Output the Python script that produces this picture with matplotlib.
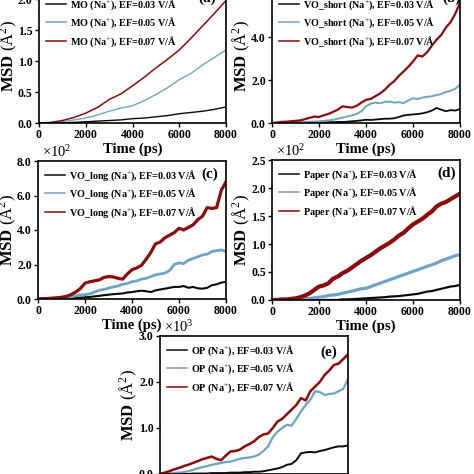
import matplotlib
matplotlib.use("Agg")
import matplotlib.pyplot as plt

plt.rcParams['font.family'] = ['Liberation Serif', 'DejaVu Serif']
plt.rcParams['mathtext.fontset'] = 'custom'
plt.rcParams['mathtext.rm'] = 'Liberation Serif'
plt.rcParams['mathtext.bf'] = 'Liberation Serif:bold'
plt.rcParams['mathtext.it'] = 'Liberation Serif:italic'

# ---------------- data ----------------
T_A = list(range(0, 8001, 500))
T = list(range(0, 8001, 200))
XTICKS = [0, 2000, 4000, 6000, 8000]

a_003 = [0, 0.002, 0.005, 0.01, 0.02, 0.03, 0.04, 0.05, 0.07, 0.08, 0.1, 0.12, 0.15, 0.17, 0.19, 0.22, 0.26]
a_005 = [0, 0.005, 0.02, 0.05, 0.08, 0.13, 0.19, 0.24, 0.28, 0.36, 0.46, 0.57, 0.70, 0.80, 0.94, 1.06, 1.18]
a_007 = [0, 0.01, 0.04, 0.09, 0.16, 0.25, 0.38, 0.47, 0.60, 0.74, 0.89, 1.03, 1.18, 1.37, 1.57, 1.77, 1.98]

b_003 = [0, 0, 0, 0, 0.01, 0.01, 0.01, 0.02, 0.02, 0.02, 0.03, 0.03, 0.04, 0.04, 0.05, 0.05, 0.06, 0.08, 0.1, 0.12,
         0.15, 0.14, 0.16, 0.18, 0.2, 0.2, 0.22, 0.28, 0.35, 0.38, 0.4, 0.42, 0.45, 0.5, 0.58, 0.7, 0.62, 0.55, 0.6, 0.58, 0.65]
b_005 = [0, 0, 0.01, 0.01, 0.02, 0.03, 0.04, 0.05, 0.06, 0.07, 0.08, 0.1, 0.12, 0.15, 0.2, 0.25, 0.3, 0.35, 0.42, 0.55,
         0.78, 0.9, 0.95, 0.92, 0.98, 1.0, 0.95, 0.97, 0.93, 1.05, 1.15, 1.12, 1.18, 1.22, 1.25, 1.3, 1.35, 1.45, 1.5, 1.6, 1.78]
b_007 = [0, 0.02, 0.05, 0.06, 0.08, 0.1, 0.12, 0.18, 0.24, 0.3, 0.28, 0.36, 0.42, 0.52, 0.62, 0.78, 0.74, 0.72, 0.8, 0.95,
         1.08, 1.12, 1.25, 1.38, 1.55, 1.78, 1.95, 2.2, 2.4, 2.62, 2.87, 3.15, 3.1, 3.3, 3.6, 3.88, 4.1, 4.45, 4.7, 5.1, 5.6]

c_003 = [0, 0, 0, 0, 0.01, 0.02, 0.03, 0.05, 0.07, 0.08, 0.1, 0.12, 0.15, 0.18, 0.22, 0.25, 0.28, 0.3, 0.32, 0.38,
         0.4, 0.45, 0.48, 0.45, 0.4, 0.5, 0.55, 0.6, 0.65, 0.7, 0.7, 0.75, 0.65, 0.7, 0.62, 0.6, 0.65, 0.8, 0.85, 0.95, 1.0]
c_005 = [0, 0, 0, 0.01, 0.02, 0.05, 0.08, 0.12, 0.18, 0.22, 0.25, 0.3, 0.4, 0.5, 0.55, 0.63, 0.7, 0.75, 0.85, 0.9,
         1.0, 1.05, 1.15, 1.2, 1.3, 1.4, 1.45, 1.5, 1.65, 2.0, 2.1, 2.05, 2.25, 2.35, 2.45, 2.55, 2.6, 2.75, 2.8, 2.85, 2.75]
c_007 = [0, 0.02, 0.03, 0.05, 0.07, 0.1, 0.15, 0.25, 0.4, 0.6, 0.92, 1.0, 1.05, 1.1, 1.25, 1.3, 1.28, 1.2, 1.15, 1.45,
         1.7, 1.8, 1.95, 2.3, 2.7, 3.2, 3.3, 3.55, 3.7, 3.85, 4.1, 4.0, 4.15, 4.3, 4.6, 4.8, 5.3, 5.25, 5.3, 6.3, 6.8]

d_003 = [0] * 15 + [0.01, 0.01, 0.015, 0.02, 0.025, 0.03, 0.035, 0.04, 0.045, 0.05, 0.06, 0.065, 0.07, 0.08, 0.09,
                    0.1, 0.11, 0.13, 0.15, 0.16, 0.18, 0.2, 0.22, 0.24, 0.25, 0.27]
d_005 = [0, 0, 0, 0, 0, 0.01, 0.01, 0.02, 0.03, 0.04, 0.05, 0.06, 0.08, 0.09, 0.1, 0.12, 0.14, 0.16, 0.18, 0.2,
         0.21, 0.24, 0.27, 0.3, 0.33, 0.36, 0.39, 0.42, 0.45, 0.48, 0.51, 0.54, 0.57, 0.6, 0.63, 0.66, 0.7, 0.73, 0.76, 0.79, 0.81]
d_007 = [0, 0, 0.01, 0.01, 0.02, 0.03, 0.05, 0.08, 0.12, 0.18, 0.24, 0.26, 0.3, 0.38, 0.42, 0.48, 0.52, 0.58, 0.64, 0.7,
         0.75, 0.8, 0.86, 0.92, 0.97, 1.02, 1.08, 1.15, 1.2, 1.28, 1.35, 1.4, 1.45, 1.52, 1.58, 1.67, 1.72, 1.75, 1.8, 1.85, 1.9]

e_003 = [0, 0, 0, 0, 0, 0, 0, 0.01, 0.01, 0.01, 0.01, 0.02, 0.02, 0.02, 0.02, 0.03, 0.03, 0.03, 0.04, 0.04,
         0.05, 0.05, 0.06, 0.08, 0.1, 0.12, 0.15, 0.2, 0.22, 0.3, 0.45, 0.47, 0.48, 0.47, 0.5, 0.52, 0.55, 0.58, 0.6, 0.6, 0.62]
e_005 = [0, 0, 0.01, 0.02, 0.03, 0.04, 0.06, 0.09, 0.12, 0.15, 0.17, 0.2, 0.22, 0.24, 0.26, 0.27, 0.3, 0.33, 0.35, 0.36,
         0.38, 0.42, 0.5, 0.6, 0.8, 0.92, 1.0, 1.07, 1.05, 1.2, 1.36, 1.5, 1.62, 1.8, 1.78, 1.72, 1.74, 1.75, 1.8, 1.85, 2.07]
e_007 = [0, 0.03, 0.06, 0.1, 0.13, 0.17, 0.2, 0.24, 0.28, 0.32, 0.35, 0.38, 0.33, 0.3, 0.4, 0.49, 0.5, 0.53, 0.6, 0.65,
         0.71, 0.8, 0.86, 0.88, 1.0, 1.14, 1.2, 1.3, 1.4, 1.5, 1.65, 1.6, 1.8, 1.9, 2.0, 2.15, 2.25, 2.37, 2.4, 2.5, 2.6]

EF_LABELS = ["EF=0.03 V/Å", "EF=0.05 V/Å", "EF=0.07 V/Å"]
COLORS = ['#0a0a0a', '#6fa3c4', '#8b0a0a']

# ---------------- layout ----------------
W = H = 474
fig = plt.figure(figsize=(W / 100, H / 100), dpi=100)


def px_axes(L, R, T_, B):
    return fig.add_axes([L / W, 1 - B / H, (R - L) / W, (B - T_) / H])


panels = [
    # rect(px), x, series, name, ylim top, yticks, line widths, exponent, letter, letter pos, ylabel x
    ((39, 226, -10, 123), T_A, (a_003, a_005, a_007), "MO", 2.15, [0, 0.5, 1.0, 1.5, 2.0],
     (1.0, 1.0, 1.1), None, "(a)", (0.90, 0.94), -0.108),
    ((272, 460, -10, 123), T, (b_003, b_005, b_007), "VO_short", 6.2, [0, 2.0, 4.0, 6.0],
     (1.3, 1.4, 1.6), None, "(b)", (0.955, 0.94), -0.106),
    ((38, 226, 161, 299), T, (c_003, c_005, c_007), "VO_long", 8.0, [0, 2.0, 4.0, 6.0, 8.0],
     (1.5, 2.0, 2.3), "×10$^2$", "(c)", (0.915, 0.905), -0.108),
    ((272, 460, 160, 300), T, (d_003, d_005, d_007), "Paper", 2.5, [0, 0.5, 1.0, 1.5, 2.0, 2.5],
     (1.6, 2.3, 3.0), "×10$^2$", "(d)", (0.93, 0.905), -0.106),
    ((160, 348, 336, 474), T, (e_003, e_005, e_007), "OP", 3.0, [0, 1.0, 2.0, 3.0],
     (1.4, 1.6, 1.8), "×10$^3$", "(e)", (0.895, 0.88), -0.112),
]

for rect, xs, series, name, ytop, yticks, lws, expo, letter, lpos, ylx in panels:
    ax = px_axes(*rect)
    for ys, col, ef, lw in zip(series, COLORS, EF_LABELS, lws):
        ax.plot(xs, ys, color=col, lw=lw, label=f"{name} (Na$^{{+}}$), {ef}")
    ax.set_xlim(0, 8000)
    ax.set_ylim(0, ytop)
    ax.set_xticks(XTICKS)
    ax.set_yticks(yticks)
    ax.set_yticklabels([f"{v:.1f}" for v in yticks])
    ax.tick_params(direction='out', length=3, width=1.0, labelsize=8.5, pad=1.5)
    for lab in ax.get_xticklabels() + ax.get_yticklabels():
        lab.set_fontweight('bold')
    for s in ax.spines.values():
        s.set_linewidth(1.2)
    ax.set_xlabel("Time (ps)", fontsize=10.5, fontweight='bold', labelpad=1)
    ax.set_ylabel(r"$\mathbf{MSD}$ (Å$^2$)", fontsize=12)
    ax.yaxis.set_label_coords(ylx, 0.5)
    leg = ax.legend(loc='upper left', frameon=False, handlelength=2.0,
                    handletextpad=0.4, labelspacing=0.4, borderaxespad=0.3,
                    prop={'weight': 'bold', 'size': 7.3})
    for line in leg.get_lines():
        line.set_linewidth(1.1)
    ax.text(lpos[0], lpos[1], letter, transform=ax.transAxes, ha='center', va='center',
            fontsize=11, fontweight='bold')
    if expo:
        ax.text(0.02, 1.01, expo, transform=ax.transAxes, ha='left', va='bottom', fontsize=10.5)

fig.savefig("out.png", dpi=100)
